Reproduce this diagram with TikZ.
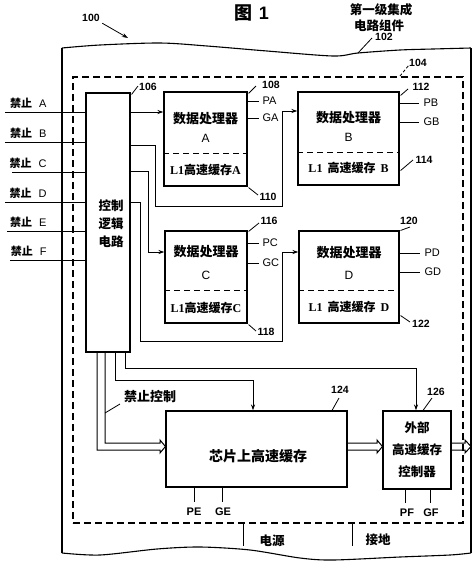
\documentclass[tikz,border=0pt]{standalone}
\usepackage{fontspec}
\setmainfont{Liberation Sans}
\newfontfamily\cjk{Noto Sans CJK SC}
\newfontfamily\serifL{Liberation Serif}
\usetikzlibrary{arrows.meta,calc}
\begin{document}
\begin{tikzpicture}[x=1pt,y=-1pt,line width=1pt,
  box/.style={draw, line width=1.1pt, inner sep=0pt},
  zh/.style={font=\cjk\bfseries\fontsize{13}{15}\selectfont, inner sep=0pt},
  zhs/.style={font=\cjk\bfseries\fontsize{11}{13}\selectfont, inner sep=0pt},
  lab/.style={font=\fontsize{11}{13}\selectfont, inner sep=0pt},
  num/.style={font=\bfseries\fontsize{10.5}{12}\selectfont, inner sep=0pt},
  dsh/.style={dash pattern=on 7pt off 4pt, line width=1.1pt},
  dsh2/.style={dash pattern=on 6pt off 4pt, line width=1pt},
  arr/.style={-{Stealth[length=6pt,width=4pt]}},
  lead/.style={line width=0.8pt}]
\useasboundingbox (0,0) rectangle (474,576);

% title and chip labels
\node[inner sep=0pt] (title) at (252,13) {\fontsize{18}{20}\selectfont{\cjk\bfseries 图}\hspace{6pt}\bfseries 1};
\node[zh, font=\cjk\bfseries\fontsize{12.5}{14}\selectfont] (chip1) at (381,10) {第一级集成};
\node[zh, font=\cjk\bfseries\fontsize{12.5}{14}\selectfont] (chip2) at (379,26) {电路组件};
\node[num] (n100) at (91,18) {100};
\node[num] (n102) at (384,37) {102};
\node[num] (n104) at (418,63) {104};

% outer chip border (wavy top and bottom)
\draw[line width=1.1pt] plot[smooth] coordinates {(62,48) (100,45) (160,43) (207,46) (267,51) (333,56) (358,53) (400,50) (433,49) (471,48)};
\draw[line width=1.1pt] plot[smooth] coordinates {(62,553) (100,555) (157,549) (200,547) (250,550) (300,558) (333,560) (400,557) (450,555) (471,553)};
\draw[line width=1.1pt] (62,48) -- (62,553);
\draw[line width=1.1pt] (471,48) -- (471,553);
\coordinate (edge100) at (128,38);
\draw[arr, lead] (n100.south east) ++(2,1) -- (edge100);
\coordinate (edge102) at (358,53);
\draw[lead] (edge102) -- (372,38);

% dashed inner rectangle
\node[draw, dsh, minimum width=390pt, minimum height=446pt] (ic) at (268,300) {};
\draw[lead, dash pattern=on 3pt off 2pt] (400,76) -- (409,65);

% control logic
\node[box, minimum width=44pt, minimum height=259pt] (ctl) at (108,222.5) {};
\node[zh, align=center, font=\cjk\bfseries\fontsize{12.5}{18}\selectfont] (ctltext) at (111,224) {控制\\逻辑\\电路};
\node[num] (n106) at (148,87) {106};
\draw[lead] (ctl.north east) ++(1,2) -- (138,86);

% inputs
\foreach \l/\y/\x in {A/112/5, B/142/5, C/172/12, D/202/5, E/231/7, F/260/10}{
  \node[zhs, anchor=base east] (in\l) at (47,\y-5) {禁止\hspace{7pt}{\normalfont\fontsize{11}{13}\selectfont \l}};
  \draw (\x,\y) -- (ctl.west |- 0,\y);
}

% data processors
\node[box, minimum width=83pt, minimum height=94pt] (pA) at (205.5,139) {};
\node[box, minimum width=101pt, minimum height=93pt] (pB) at (348.5,138.5) {};
\node[box, minimum width=82pt, minimum height=92pt] (pC) at (206,277) {};
\node[box, minimum width=100pt, minimum height=92pt] (pD) at (349,277) {};
\foreach \p in {pA,pB,pC,pD}{
  \draw[dsh2] ($(\p.south west)+(0,-33)$) -- ($(\p.south east)+(0,-33)$);
}
\node[zh] (tA1) at (205.5,119) {数据处理器};
\node[lab, font=\fontsize{12}{14}\selectfont] (tA2) at (205.5,138) {A};
\node[zh, font=\cjk\bfseries\fontsize{12}{14}\selectfont] (tA3) at (205.5,170) {{\serifL L1}高速缓存{\serifL A}};
\node[zh] (tB1) at (348.5,118) {数据处理器};
\node[lab, font=\fontsize{12}{14}\selectfont] (tB2) at (348.5,137) {B};
\node[zh, font=\cjk\bfseries\fontsize{12}{14}\selectfont] (tB3) at (348.5,168) {{\serifL L1}\hspace{5pt}高速缓存\hspace{5pt}{\serifL B}};
\node[zh] (tC1) at (206,252) {数据处理器};
\node[lab, font=\fontsize{12}{14}\selectfont] (tC2) at (206,275) {C};
\node[zh, font=\cjk\bfseries\fontsize{12}{14}\selectfont] (tC3) at (206,308) {{\serifL L1}高速缓存{\serifL C}};
\node[zh] (tD1) at (349,253) {数据处理器};
\node[lab, font=\fontsize{12}{14}\selectfont] (tD2) at (349,275) {D};
\node[zh, font=\cjk\bfseries\fontsize{12}{14}\selectfont] (tD3) at (349,307) {{\serifL L1}\hspace{5pt}高速缓存\hspace{5pt}{\serifL D}};

% power/ground pins of processors
\draw (pA.east |- 0,101) -- (259,101) node[lab, anchor=west, xshift=3pt] (lPA) {PA};
\draw (pA.east |- 0,118) -- (259,118) node[lab, anchor=west, xshift=3pt] (lGA) {GA};
\draw (pB.east |- 0,103) -- (419,103) node[lab, anchor=west, xshift=4pt] (lPB) {PB};
\draw (pB.east |- 0,122) -- (419,122) node[lab, anchor=west, xshift=4pt] (lGB) {GB};
\draw (pC.east |- 0,243) -- (259,243) node[lab, anchor=west, xshift=3pt] (lPC) {PC};
\draw (pC.east |- 0,263) -- (259,263) node[lab, anchor=west, xshift=3pt] (lGC) {GC};
\draw (pD.east |- 0,253) -- (420,253) node[lab, anchor=west, xshift=4pt] (lPD) {PD};
\draw (pD.east |- 0,272) -- (420,272) node[lab, anchor=west, xshift=4pt] (lGD) {GD};

% reference numbers
\node[num] (n108) at (271,85) {108};
\draw[lead] (pA.north east) ++(1,2) -- (256,86);
\node[num] (n110) at (268,197) {110};
\draw[lead] (pA.south east) ++(1,1) -- (258,195);
\node[num] (n112) at (421,87) {112};
\draw[lead] (pB.north east) ++(1,4) -- (408,89);
\node[num] (n114) at (424,160) {114};
\draw[lead] (pB.south east) ++(1,-15) -- (413,160);
\node[num] (n116) at (269,221) {116};
\draw[lead] (pC.north east) ++(1,1) -- (259,223);
\node[num] (n118) at (266,332) {118};
\draw[lead] (pC.south east) ++(1,1) -- (256,331);
\node[num] (n120) at (409,221) {120};
\draw[lead] (pD.north east) ++(1,0) -- (410,227);
\node[num] (n122) at (421,324) {122};
\draw[lead] (pD.south east) ++(1,-8) -- (410,322);

% control connectors to processors
\draw[arr] (ctl.east |- 0,112) -- (pA.west |- 0,112);
\draw[arr] (ctl.east |- 0,145) -| (155,206) -| (282,111) -- (pB.west |- 0,111);
\draw[arr] (ctl.east |- 0,171) -| (148,252) -- (pC.west |- 0,252);
\draw[arr] (ctl.east |- 0,202) -| (140,341) -| (282,252) -- (pD.west |- 0,252);

% on-chip cache and external cache controller
\node[box, minimum width=181pt, minimum height=76pt] (oc) at (256.5,449) {};
\node[zh, font=\cjk\bfseries\fontsize{14}{16}\selectfont] (octext) at (258,456) {芯片上高速缓存};
\node[num] (n124) at (340,390) {124};
\draw[lead] (332,0 |- oc.north) -- (339,398);
\node[box, minimum width=68pt, minimum height=78pt] (ext) at (417,450) {};
\node[zh, align=center, font=\cjk\bfseries\fontsize{12.5}{22}\selectfont] (exttext) at (417,450) {外部\\高速缓存\\控制器};
\node[num] (n126) at (436,392) {126};
\draw[lead] (423,0 |- ext.north) -- (432,398);

% control bottom connectors
\draw (97,0 |- ctl.south) -- (97,450) -- (160,450) -- (160,453) -- (oc.west |- 0,446.5) -- (160,440) -- (160,443) -- (105,443) -- (105,0 |- ctl.south);
\draw[arr] (115,0 |- ctl.south) |- (253,380) -- (253,0 |- oc.north);
\draw[arr] (125,0 |- ctl.south) |- (416,368) -- (416,0 |- ext.north);
\node[zh, font=\cjk\bfseries\fontsize{13}{15}\selectfont] (inhctl) at (150,397) {禁止控制};
\draw[lead] (105,413) -- (120,404);

% double arrows cache -> ext -> outside
\draw (oc.east |- 0,443) -- (377,443) -- (377,440) -- (ext.west |- 0,446.5) -- (377,453) -- (377,450) -- (oc.east |- 0,450);
\coordinate (outR) at (471,446.5);
\draw (ext.east |- 0,443) -- (465,443) -- (465,440) -- (outR) -- (465,453) -- (465,450) -- (ext.east |- 0,450);

% pins
\draw (194,0 |- oc.south) -- (194,502);
\draw (222,0 |- oc.south) -- (222,502);
\node[lab, font=\bfseries\fontsize{11}{13}\selectfont] (lPE) at (194,512) {PE};
\node[lab, font=\bfseries\fontsize{11}{13}\selectfont] (lGE) at (223,512) {GE};
\draw (405,0 |- ext.south) -- (405,503);
\draw (430,0 |- ext.south) -- (430,503);
\node[lab, font=\bfseries\fontsize{11}{13}\selectfont] (lPF) at (407,513) {PF};
\node[lab, font=\bfseries\fontsize{11}{13}\selectfont] (lGF) at (431,513) {GF};

% power and ground
\draw (243,0 |- ic.south) -- (243,546);
\node[zh, font=\cjk\bfseries\fontsize{12.5}{14}\selectfont] (pwr) at (272,541) {电源};
\draw (352,0 |- ic.south) -- (352,546);
\node[zh, font=\cjk\bfseries\fontsize{12.5}{14}\selectfont] (gnd) at (378,540) {接地};
\end{tikzpicture}
\end{document}
